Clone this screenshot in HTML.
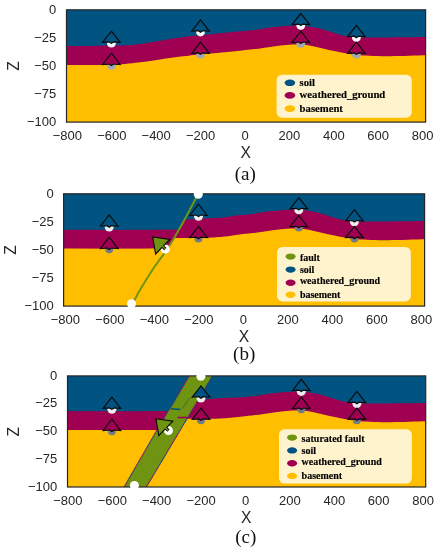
<!DOCTYPE html>
<html><head><meta charset="utf-8"><title>Geological model sections</title>
<style>
html,body{margin:0;padding:0;background:#ffffff;}
svg{display:block;}
.tk{font-family:"Liberation Sans",Arial,sans-serif;font-size:13px;fill:#262626;}
.al{font-family:"Liberation Sans",Arial,sans-serif;font-size:15.6px;fill:#262626;}
.cap{font-family:"Liberation Serif","Times New Roman",serif;font-size:19px;fill:#111;}
.lg{font-family:"Liberation Serif","Times New Roman",serif;font-weight:bold;fill:#000;stroke:#000;stroke-width:0.15px;}
</style></head><body>
<svg width="439" height="550" viewBox="0 0 439 550">
<rect x="0" y="0" width="439" height="550" fill="#ffffff"/>
<clipPath id="ca"><rect x="66.50" y="9.80" width="359.10" height="112.30"/></clipPath><g clip-path="url(#ca)"><rect x="66.50" y="9.80" width="359.10" height="112.30" fill="#015482"/><path d="M64.50,46.00 C68.75,45.98 82.25,45.97 90.00,45.90 C97.75,45.83 105.17,45.70 111.00,45.60 C116.83,45.50 120.17,45.58 125.00,45.30 C129.83,45.02 134.17,44.65 140.00,43.90 C145.83,43.15 154.17,41.75 160.00,40.80 C165.83,39.85 170.00,38.97 175.00,38.20 C180.00,37.43 185.83,36.68 190.00,36.20 C194.17,35.72 196.67,35.63 200.00,35.30 C203.33,34.97 205.83,34.63 210.00,34.20 C214.17,33.77 220.00,33.18 225.00,32.70 C230.00,32.22 235.00,31.77 240.00,31.30 C245.00,30.83 250.00,30.52 255.00,29.90 C260.00,29.28 265.00,28.25 270.00,27.60 C275.00,26.95 280.00,26.33 285.00,26.00 C290.00,25.67 295.50,25.43 300.00,25.60 C304.50,25.77 307.83,26.28 312.00,27.00 C316.17,27.72 320.33,28.62 325.00,29.90 C329.67,31.18 335.83,33.58 340.00,34.70 C344.17,35.82 346.67,36.15 350.00,36.60 C353.33,37.05 353.33,37.27 360.00,37.40 C366.67,37.53 378.73,37.47 390.00,37.40 C401.27,37.33 421.33,37.07 427.60,37.00 L427.60,124.10 L64.50,124.10 Z" fill="#9f0052"/><path d="M64.50,64.90 C68.75,64.90 82.25,64.90 90.00,64.90 C97.75,64.90 105.17,65.07 111.00,64.90 C116.83,64.73 120.17,64.33 125.00,63.90 C129.83,63.47 134.17,63.05 140.00,62.30 C145.83,61.55 154.17,60.25 160.00,59.40 C165.83,58.55 170.00,57.87 175.00,57.20 C180.00,56.53 185.83,55.85 190.00,55.40 C194.17,54.95 196.67,54.80 200.00,54.50 C203.33,54.20 205.83,53.98 210.00,53.60 C214.17,53.22 220.00,52.68 225.00,52.20 C230.00,51.72 235.00,51.22 240.00,50.70 C245.00,50.18 250.00,49.73 255.00,49.10 C260.00,48.47 265.33,47.55 270.00,46.90 C274.67,46.25 278.83,45.62 283.00,45.20 C287.17,44.78 290.83,44.40 295.00,44.40 C299.17,44.40 303.00,44.43 308.00,45.20 C313.00,45.97 319.67,47.82 325.00,49.00 C330.33,50.18 335.83,51.47 340.00,52.30 C344.17,53.13 346.67,53.52 350.00,54.00 C353.33,54.48 353.33,54.83 360.00,55.20 C366.67,55.57 378.73,56.18 390.00,56.20 C401.27,56.22 421.33,55.45 427.60,55.30 L427.60,124.10 L64.50,124.10 Z" fill="#ffbe00"/>
</g>
<circle cx="111.40" cy="43.20" r="4.40" fill="#ffffff"/><path d="M111.40,31.10 L120.20,42.40 L113.60,41.90 L111.40,43.40 L109.20,41.90 L102.60,42.40 Z" fill="#015482" stroke="#0a0a0a" stroke-width="1.15" stroke-linejoin="miter"/>
<circle cx="111.40" cy="65.30" r="4.40" fill="#a0a8b4"/><path d="M111.40,53.20 L120.20,64.50 L113.60,64.00 L111.40,65.50 L109.20,64.00 L102.60,64.50 Z" fill="#9f0052" stroke="#0a0a0a" stroke-width="1.15" stroke-linejoin="miter"/>
<circle cx="200.50" cy="32.00" r="4.40" fill="#ffffff"/><path d="M200.50,19.90 L209.30,31.20 L202.70,30.70 L200.50,32.20 L198.30,30.70 L191.70,31.20 Z" fill="#015482" stroke="#0a0a0a" stroke-width="1.15" stroke-linejoin="miter"/>
<circle cx="200.50" cy="54.20" r="4.40" fill="#a0a8b4"/><path d="M200.50,42.10 L209.30,53.40 L202.70,52.90 L200.50,54.40 L198.30,52.90 L191.70,53.40 Z" fill="#9f0052" stroke="#0a0a0a" stroke-width="1.15" stroke-linejoin="miter"/>
<circle cx="300.80" cy="25.40" r="4.40" fill="#ffffff"/><path d="M300.80,13.30 L309.60,24.60 L303.00,24.10 L300.80,25.60 L298.60,24.10 L292.00,24.60 Z" fill="#015482" stroke="#0a0a0a" stroke-width="1.15" stroke-linejoin="miter"/>
<circle cx="300.80" cy="43.30" r="4.40" fill="#a0a8b4"/><path d="M300.80,31.20 L309.60,42.50 L303.00,42.00 L300.80,43.50 L298.60,42.00 L292.00,42.50 Z" fill="#9f0052" stroke="#0a0a0a" stroke-width="1.15" stroke-linejoin="miter"/>
<circle cx="356.40" cy="37.50" r="4.40" fill="#ffffff"/><path d="M356.40,25.40 L365.20,36.70 L358.60,36.20 L356.40,37.70 L354.20,36.20 L347.60,36.70 Z" fill="#015482" stroke="#0a0a0a" stroke-width="1.15" stroke-linejoin="miter"/>
<circle cx="356.40" cy="54.20" r="4.40" fill="#a0a8b4"/><path d="M356.40,42.10 L365.20,53.40 L358.60,52.90 L356.40,54.40 L354.20,52.90 L347.60,53.40 Z" fill="#9f0052" stroke="#0a0a0a" stroke-width="1.15" stroke-linejoin="miter"/>
<rect x="276.60" y="74.70" width="135.20" height="43.00" rx="5.5" ry="5.5" fill="#fff3cd"/><ellipse cx="289.90" cy="82.80" rx="5.30" ry="3.30" fill="#015482"/><text x="299.60" y="85.60" class="lg" font-size="10.70">soil</text><ellipse cx="289.90" cy="95.40" rx="5.30" ry="3.30" fill="#9f0052"/><text x="299.60" y="98.20" class="lg" font-size="10.70">weathered_ground</text><ellipse cx="289.90" cy="108.60" rx="5.30" ry="3.30" fill="#ffbe00"/><text x="299.60" y="112.00" class="lg" font-size="10.70">basement</text>
<rect x="66.50" y="9.80" width="359.10" height="112.30" fill="none" stroke="#262626" stroke-width="1.2"/>
<text x="56.30" y="14.35" text-anchor="end" class="tk">0</text><text x="56.30" y="42.35" text-anchor="end" class="tk">−25</text><text x="56.30" y="70.35" text-anchor="end" class="tk">−50</text><text x="56.30" y="98.35" text-anchor="end" class="tk">−75</text><text x="56.30" y="126.35" text-anchor="end" class="tk">−100</text><text x="67.40" y="139.60" text-anchor="middle" class="tk">−800</text><text x="111.80" y="139.60" text-anchor="middle" class="tk">−600</text><text x="156.20" y="139.60" text-anchor="middle" class="tk">−400</text><text x="200.60" y="139.60" text-anchor="middle" class="tk">−200</text><text x="245.00" y="139.60" text-anchor="middle" class="tk">0</text><text x="289.40" y="139.60" text-anchor="middle" class="tk">200</text><text x="333.80" y="139.60" text-anchor="middle" class="tk">400</text><text x="378.20" y="139.60" text-anchor="middle" class="tk">600</text><text x="422.60" y="139.60" text-anchor="middle" class="tk">800</text><text x="245.60" y="158.00" text-anchor="middle" class="al">X</text><text transform="translate(18.60,66.00) rotate(-90)" text-anchor="middle" class="al">Z</text><text x="245.30" y="179.50" text-anchor="middle" class="cap">(a)</text>
<clipPath id="cb"><rect x="63.60" y="193.80" width="361.00" height="112.30"/></clipPath><g clip-path="url(#cb)"><rect x="63.60" y="193.80" width="361.00" height="112.30" fill="#015482"/><path d="M61.60,229.90 C76.33,229.90 130.60,231.55 150.00,229.90 C169.40,228.25 172.17,221.73 178.00,220.00 C183.83,218.27 181.33,219.72 185.00,219.50 C188.67,219.28 195.50,218.95 200.00,218.70 C204.50,218.45 207.83,218.25 212.00,218.00 C216.17,217.75 220.72,217.65 225.00,217.20 C229.28,216.75 233.08,215.85 237.70,215.30 C242.32,214.75 247.70,214.52 252.70,213.90 C257.70,213.28 262.70,212.25 267.70,211.60 C272.70,210.95 277.70,210.33 282.70,210.00 C287.70,209.67 293.20,209.43 297.70,209.60 C302.20,209.77 305.53,210.28 309.70,211.00 C313.87,211.72 318.03,212.62 322.70,213.90 C327.37,215.18 333.53,217.58 337.70,218.70 C341.87,219.82 344.37,220.15 347.70,220.60 C351.03,221.05 351.03,221.27 357.70,221.40 C364.37,221.53 376.22,221.47 387.70,221.40 C399.18,221.33 420.12,221.07 426.60,221.00 L426.60,308.10 L61.60,308.10 Z" fill="#9f0052"/><path d="M61.60,248.60 C76.33,248.60 132.77,250.33 150.00,248.60 C167.23,246.87 161.33,239.97 165.00,238.20 C168.67,236.43 167.83,238.03 172.00,238.00 C176.17,237.97 184.33,238.03 190.00,238.00 C195.67,237.97 201.67,237.92 206.00,237.80 C210.33,237.68 212.83,237.50 216.00,237.30 C219.17,237.10 221.38,237.03 225.00,236.60 C228.62,236.17 233.08,235.28 237.70,234.70 C242.32,234.12 247.70,233.73 252.70,233.10 C257.70,232.47 263.03,231.55 267.70,230.90 C272.37,230.25 276.53,229.62 280.70,229.20 C284.87,228.78 288.53,228.40 292.70,228.40 C296.87,228.40 300.70,228.43 305.70,229.20 C310.70,229.97 317.37,231.82 322.70,233.00 C328.03,234.18 333.53,235.47 337.70,236.30 C341.87,237.13 344.37,237.52 347.70,238.00 C351.03,238.48 351.03,238.83 357.70,239.20 C364.37,239.57 376.22,240.18 387.70,240.20 C399.18,240.22 420.12,239.45 426.60,239.30 L426.60,308.10 L61.60,308.10 Z" fill="#ffbe00"/>
<clipPath id="cbl"><path d="M199.20,192.00 C198.00,194.25 194.32,201.13 192.00,205.50 C189.68,209.87 187.47,214.18 185.30,218.20 C183.13,222.22 181.12,225.87 179.00,229.60 C176.88,233.33 174.88,236.87 172.60,240.60 C170.32,244.33 167.73,248.43 165.30,252.00 C162.87,255.57 160.23,258.88 158.00,262.00 C155.77,265.12 154.78,266.23 151.90,270.70 C149.02,275.17 143.62,283.88 140.70,288.80 C137.78,293.72 136.02,297.17 134.40,300.20 C132.78,303.23 131.57,305.87 131.00,307.00 L60.60,308.50 L60.60,190.50 Z"/></clipPath>
<g clip-path="url(#cbl)">
<rect x="61.60" y="191.50" width="200.00" height="38.30" fill="#015482"/>
<rect x="61.60" y="229.80" width="200.00" height="18.80" fill="#9f0052"/>
<rect x="61.60" y="248.60" width="200.00" height="60.00" fill="#ffbe00"/>
</g>
<path d="M199.20,192.00 C198.00,194.25 194.32,201.13 192.00,205.50 C189.68,209.87 187.47,214.18 185.30,218.20 C183.13,222.22 181.12,225.87 179.00,229.60 C176.88,233.33 174.88,236.87 172.60,240.60 C170.32,244.33 167.73,248.43 165.30,252.00 C162.87,255.57 160.23,258.88 158.00,262.00 C155.77,265.12 154.78,266.23 151.90,270.70 C149.02,275.17 143.62,283.88 140.70,288.80 C137.78,293.72 136.02,297.17 134.40,300.20 C132.78,303.23 131.57,305.87 131.00,307.00" fill="none" stroke="#6f9412" stroke-width="2.0"/>
</g>
<circle cx="109.20" cy="227.00" r="4.50" fill="#ececec"/><path d="M109.20,214.90 L118.00,226.20 L111.40,225.70 L109.20,227.20 L107.00,225.70 L100.40,226.20 Z" fill="#015482" stroke="#0a0a0a" stroke-width="1.15" stroke-linejoin="miter"/>
<circle cx="109.20" cy="249.30" r="4.00" fill="#747a86"/><path d="M109.20,237.20 L118.00,248.50 L111.40,248.00 L109.20,249.50 L107.00,248.00 L100.40,248.50 Z" fill="#9f0052" stroke="#0a0a0a" stroke-width="1.15" stroke-linejoin="miter"/>
<circle cx="198.50" cy="216.30" r="4.50" fill="#ececec"/><path d="M198.50,204.20 L207.30,215.50 L200.70,215.00 L198.50,216.50 L196.30,215.00 L189.70,215.50 Z" fill="#015482" stroke="#0a0a0a" stroke-width="1.15" stroke-linejoin="miter"/>
<circle cx="198.50" cy="238.50" r="4.00" fill="#747a86"/><path d="M198.50,226.40 L207.30,237.70 L200.70,237.20 L198.50,238.70 L196.30,237.20 L189.70,237.70 Z" fill="#9f0052" stroke="#0a0a0a" stroke-width="1.15" stroke-linejoin="miter"/>
<circle cx="298.80" cy="209.70" r="4.50" fill="#ececec"/><path d="M298.80,197.60 L307.60,208.90 L301.00,208.40 L298.80,209.90 L296.60,208.40 L290.00,208.90 Z" fill="#015482" stroke="#0a0a0a" stroke-width="1.15" stroke-linejoin="miter"/>
<circle cx="298.80" cy="227.60" r="4.00" fill="#747a86"/><path d="M298.80,215.50 L307.60,226.80 L301.00,226.30 L298.80,227.80 L296.60,226.30 L290.00,226.80 Z" fill="#9f0052" stroke="#0a0a0a" stroke-width="1.15" stroke-linejoin="miter"/>
<circle cx="354.40" cy="221.80" r="4.50" fill="#ececec"/><path d="M354.40,209.70 L363.20,221.00 L356.60,220.50 L354.40,222.00 L352.20,220.50 L345.60,221.00 Z" fill="#015482" stroke="#0a0a0a" stroke-width="1.15" stroke-linejoin="miter"/>
<circle cx="354.40" cy="238.50" r="4.00" fill="#747a86"/><path d="M354.40,226.40 L363.20,237.70 L356.60,237.20 L354.40,238.70 L352.20,237.20 L345.60,237.70 Z" fill="#9f0052" stroke="#0a0a0a" stroke-width="1.15" stroke-linejoin="miter"/>
<rect x="277.00" y="247.00" width="133.80" height="54.40" rx="5.5" ry="5.5" fill="#fff3cd"/><ellipse cx="290.60" cy="256.60" rx="5.00" ry="3.20" fill="#6f9412"/><text x="299.90" y="260.70" class="lg" font-size="10.00">fault</text><ellipse cx="290.60" cy="269.60" rx="5.00" ry="3.20" fill="#015482"/><text x="299.90" y="272.50" class="lg" font-size="10.00">soil</text><ellipse cx="290.60" cy="282.70" rx="5.00" ry="3.20" fill="#9f0052"/><text x="299.90" y="284.40" class="lg" font-size="10.00">weathered_ground</text><ellipse cx="290.60" cy="294.70" rx="5.00" ry="3.20" fill="#ffbe00"/><text x="299.90" y="298.10" class="lg" font-size="10.00">basement</text>
<rect x="63.60" y="193.80" width="361.00" height="112.30" fill="none" stroke="#262626" stroke-width="1.2"/>
<circle cx="198.30" cy="194.30" r="4.5" fill="#ffffff"/>
<circle cx="165.30" cy="249.00" r="4.5" fill="#ffffff"/>
<circle cx="131.50" cy="303.80" r="4.5" fill="#ffffff"/>
<path d="M165.30,249.00 L161.50,245.30" stroke="#0a0a0a" stroke-width="3.2" fill="none"/><path d="M152.70,237.00 L169.70,239.40 L155.60,254.00 Z" fill="#6f9412" stroke="#0a0a0a" stroke-width="1.1" stroke-linejoin="miter"/><path d="M165.30,249.00 L160.80,244.60" stroke="#6f9412" stroke-width="1.4" fill="none"/>
<text x="53.80" y="197.95" text-anchor="end" class="tk">0</text><text x="53.80" y="225.95" text-anchor="end" class="tk">−25</text><text x="53.80" y="253.95" text-anchor="end" class="tk">−50</text><text x="53.80" y="281.95" text-anchor="end" class="tk">−75</text><text x="53.80" y="309.95" text-anchor="end" class="tk">−100</text><text x="65.40" y="323.60" text-anchor="middle" class="tk">−800</text><text x="109.90" y="323.60" text-anchor="middle" class="tk">−600</text><text x="154.40" y="323.60" text-anchor="middle" class="tk">−400</text><text x="198.90" y="323.60" text-anchor="middle" class="tk">−200</text><text x="243.40" y="323.60" text-anchor="middle" class="tk">0</text><text x="287.90" y="323.60" text-anchor="middle" class="tk">200</text><text x="332.40" y="323.60" text-anchor="middle" class="tk">400</text><text x="376.90" y="323.60" text-anchor="middle" class="tk">600</text><text x="421.40" y="323.60" text-anchor="middle" class="tk">800</text><text x="244.00" y="342.00" text-anchor="middle" class="al">X</text><text transform="translate(15.90,250.00) rotate(-90)" text-anchor="middle" class="al">Z</text><text x="244.20" y="359.90" text-anchor="middle" class="cap">(b)</text>
<clipPath id="cc"><rect x="67.50" y="375.90" width="358.20" height="111.10"/></clipPath><g clip-path="url(#cc)"><rect x="67.50" y="375.90" width="358.20" height="111.10" fill="#015482"/><path d="M65.50,411.20 C79.58,411.20 130.08,412.90 150.00,411.20 C169.92,409.50 177.00,402.92 185.00,401.00 C193.00,399.08 193.83,400.05 198.00,399.70 C202.17,399.35 206.33,399.15 210.00,398.90 C213.67,398.65 214.92,398.47 220.00,398.20 C225.08,397.93 234.58,397.68 240.50,397.30 C246.42,396.92 250.50,396.52 255.50,395.90 C260.50,395.28 265.50,394.25 270.50,393.60 C275.50,392.95 280.50,392.33 285.50,392.00 C290.50,391.67 296.00,391.43 300.50,391.60 C305.00,391.77 308.33,392.28 312.50,393.00 C316.67,393.72 320.83,394.62 325.50,395.90 C330.17,397.18 336.33,399.58 340.50,400.70 C344.67,401.82 347.17,402.15 350.50,402.60 C353.83,403.05 353.83,403.27 360.50,403.40 C367.17,403.53 379.30,403.47 390.50,403.40 C401.70,403.33 421.50,403.07 427.70,403.00 L427.70,489.00 L65.50,489.00 Z" fill="#9f0052"/><path d="M65.50,430.00 C79.58,430.00 131.75,431.83 150.00,430.00 C168.25,428.17 168.67,420.87 175.00,419.00 C181.33,417.13 183.00,418.83 188.00,418.80 C193.00,418.77 199.67,418.85 205.00,418.80 C210.33,418.75 214.08,418.85 220.00,418.50 C225.92,418.15 234.58,417.27 240.50,416.70 C246.42,416.13 250.50,415.73 255.50,415.10 C260.50,414.47 265.83,413.55 270.50,412.90 C275.17,412.25 279.33,411.62 283.50,411.20 C287.67,410.78 291.33,410.40 295.50,410.40 C299.67,410.40 303.50,410.43 308.50,411.20 C313.50,411.97 320.17,413.82 325.50,415.00 C330.83,416.18 336.33,417.47 340.50,418.30 C344.67,419.13 347.17,419.52 350.50,420.00 C353.83,420.48 353.83,420.83 360.50,421.20 C367.17,421.57 379.30,422.18 390.50,422.20 C401.70,422.22 421.50,421.45 427.70,421.30 L427.70,489.00 L65.50,489.00 Z" fill="#ffbe00"/>
<clipPath id="ccl"><path d="M201.95,374.00 L134.65,488.00 L64.50,490.00 L64.50,372.50 Z"/></clipPath>
<g clip-path="url(#ccl)">
<rect x="65.50" y="373.50" width="200.00" height="37.70" fill="#015482"/>
<rect x="65.50" y="411.20" width="200.00" height="18.80" fill="#9f0052"/>
<rect x="65.50" y="430.00" width="200.00" height="60.00" fill="#ffbe00"/>
</g>
<path d="M190.30,374.00 L170.00,408.60 L169.00,409.60 L156.70,430.60 L123.50,488.00 L145.80,488.00 L213.60,374.00 Z" fill="#6f9412"/>
<path d="M190.30,374.00 L170.00,408.60 L169.00,409.60 L156.70,430.60 L123.50,488.00" fill="none" stroke="#9f0052" stroke-width="1.05" stroke-dasharray="1.8 1.8"/>
<path d="M190.30,374.00 L170.00,408.60 L169.00,409.60 L156.70,430.60 L123.50,488.00" fill="none" stroke="#1a4f8a" stroke-width="1.05" stroke-dasharray="1.8 1.8" stroke-dashoffset="1.8"/>
<path d="M213.60,374.00 L145.80,488.00" fill="none" stroke="#9f0052" stroke-width="1.05" stroke-dasharray="1.8 1.8"/>
<path d="M213.60,374.00 L145.80,488.00" fill="none" stroke="#1a4f8a" stroke-width="1.05" stroke-dasharray="1.8 1.8" stroke-dashoffset="1.8"/>
<path d="M189.9,397.6 L182.2,408.6" fill="none" stroke="#3d6a3a" stroke-width="0.9"/>
<path d="M171.2,408.8 L180.4,409.5" fill="none" stroke="#015482" stroke-width="1.6"/>
<path d="M177.5,417.5 L187.6,417.5" fill="none" stroke="#9f0052" stroke-width="1.3"/>
</g>
<circle cx="111.90" cy="409.20" r="4.50" fill="#ececec"/><path d="M111.90,397.10 L120.70,408.40 L114.10,407.90 L111.90,409.40 L109.70,407.90 L103.10,408.40 Z" fill="#015482" stroke="#0a0a0a" stroke-width="1.15" stroke-linejoin="miter"/>
<circle cx="111.90" cy="431.30" r="4.00" fill="#747a86"/><path d="M111.90,419.20 L120.70,430.50 L114.10,430.00 L111.90,431.50 L109.70,430.00 L103.10,430.50 Z" fill="#9f0052" stroke="#0a0a0a" stroke-width="1.15" stroke-linejoin="miter"/>
<circle cx="201.00" cy="398.00" r="4.50" fill="#ececec"/><path d="M201.00,385.90 L209.80,397.20 L203.20,396.70 L201.00,398.20 L198.80,396.70 L192.20,397.20 Z" fill="#015482" stroke="#0a0a0a" stroke-width="1.15" stroke-linejoin="miter"/>
<circle cx="201.00" cy="420.20" r="4.00" fill="#747a86"/><path d="M201.00,408.10 L209.80,419.40 L203.20,418.90 L201.00,420.40 L198.80,418.90 L192.20,419.40 Z" fill="#9f0052" stroke="#0a0a0a" stroke-width="1.15" stroke-linejoin="miter"/>
<circle cx="301.30" cy="391.40" r="4.50" fill="#ececec"/><path d="M301.30,379.30 L310.10,390.60 L303.50,390.10 L301.30,391.60 L299.10,390.10 L292.50,390.60 Z" fill="#015482" stroke="#0a0a0a" stroke-width="1.15" stroke-linejoin="miter"/>
<circle cx="301.30" cy="409.30" r="4.00" fill="#747a86"/><path d="M301.30,397.20 L310.10,408.50 L303.50,408.00 L301.30,409.50 L299.10,408.00 L292.50,408.50 Z" fill="#9f0052" stroke="#0a0a0a" stroke-width="1.15" stroke-linejoin="miter"/>
<circle cx="356.90" cy="403.50" r="4.50" fill="#ececec"/><path d="M356.90,391.40 L365.70,402.70 L359.10,402.20 L356.90,403.70 L354.70,402.20 L348.10,402.70 Z" fill="#015482" stroke="#0a0a0a" stroke-width="1.15" stroke-linejoin="miter"/>
<circle cx="356.90" cy="420.20" r="4.00" fill="#747a86"/><path d="M356.90,408.10 L365.70,419.40 L359.10,418.90 L356.90,420.40 L354.70,418.90 L348.10,419.40 Z" fill="#9f0052" stroke="#0a0a0a" stroke-width="1.15" stroke-linejoin="miter"/>
<rect x="279.00" y="429.20" width="132.90" height="54.40" rx="5.5" ry="5.5" fill="#fff3cd"/><ellipse cx="292.10" cy="437.60" rx="5.00" ry="3.20" fill="#6f9412"/><text x="301.60" y="441.50" class="lg" font-size="10.00">saturated fault</text><ellipse cx="292.10" cy="450.40" rx="5.00" ry="3.20" fill="#015482"/><text x="301.60" y="453.50" class="lg" font-size="10.00">soil</text><ellipse cx="292.10" cy="463.30" rx="5.00" ry="3.20" fill="#9f0052"/><text x="301.60" y="465.40" class="lg" font-size="10.00">weathered_ground</text><ellipse cx="292.10" cy="475.90" rx="5.00" ry="3.20" fill="#ffbe00"/><text x="301.60" y="478.80" class="lg" font-size="10.00">basement</text>
<rect x="67.50" y="375.90" width="358.20" height="111.10" fill="none" stroke="#262626" stroke-width="1.2"/>
<circle cx="200.90" cy="376.30" r="4.5" fill="#ffffff"/>
<circle cx="168.50" cy="430.60" r="4.5" fill="#ffffff"/>
<circle cx="134.40" cy="485.40" r="4.5" fill="#ffffff"/>
<path d="M168.50,430.70 L164.70,427.00" stroke="#0a0a0a" stroke-width="3.2" fill="none"/><path d="M155.90,418.70 L172.90,421.10 L158.80,435.70 Z" fill="#6f9412" stroke="#0a0a0a" stroke-width="1.1" stroke-linejoin="miter"/><path d="M168.50,430.70 L164.00,426.30" stroke="#6f9412" stroke-width="1.4" fill="none"/>
<text x="57.30" y="379.55" text-anchor="end" class="tk">0</text><text x="57.30" y="407.43" text-anchor="end" class="tk">−25</text><text x="57.30" y="435.30" text-anchor="end" class="tk">−50</text><text x="57.30" y="463.18" text-anchor="end" class="tk">−75</text><text x="57.30" y="491.05" text-anchor="end" class="tk">−100</text><text x="67.90" y="505.10" text-anchor="middle" class="tk">−800</text><text x="112.30" y="505.10" text-anchor="middle" class="tk">−600</text><text x="156.70" y="505.10" text-anchor="middle" class="tk">−400</text><text x="201.10" y="505.10" text-anchor="middle" class="tk">−200</text><text x="245.50" y="505.10" text-anchor="middle" class="tk">0</text><text x="289.90" y="505.10" text-anchor="middle" class="tk">200</text><text x="334.30" y="505.10" text-anchor="middle" class="tk">400</text><text x="378.70" y="505.10" text-anchor="middle" class="tk">600</text><text x="423.10" y="505.10" text-anchor="middle" class="tk">800</text><text x="246.10" y="522.80" text-anchor="middle" class="al">X</text><text transform="translate(19.20,431.75) rotate(-90)" text-anchor="middle" class="al">Z</text><text x="245.80" y="543.40" text-anchor="middle" class="cap">(c)</text>
</svg>
</body></html>
